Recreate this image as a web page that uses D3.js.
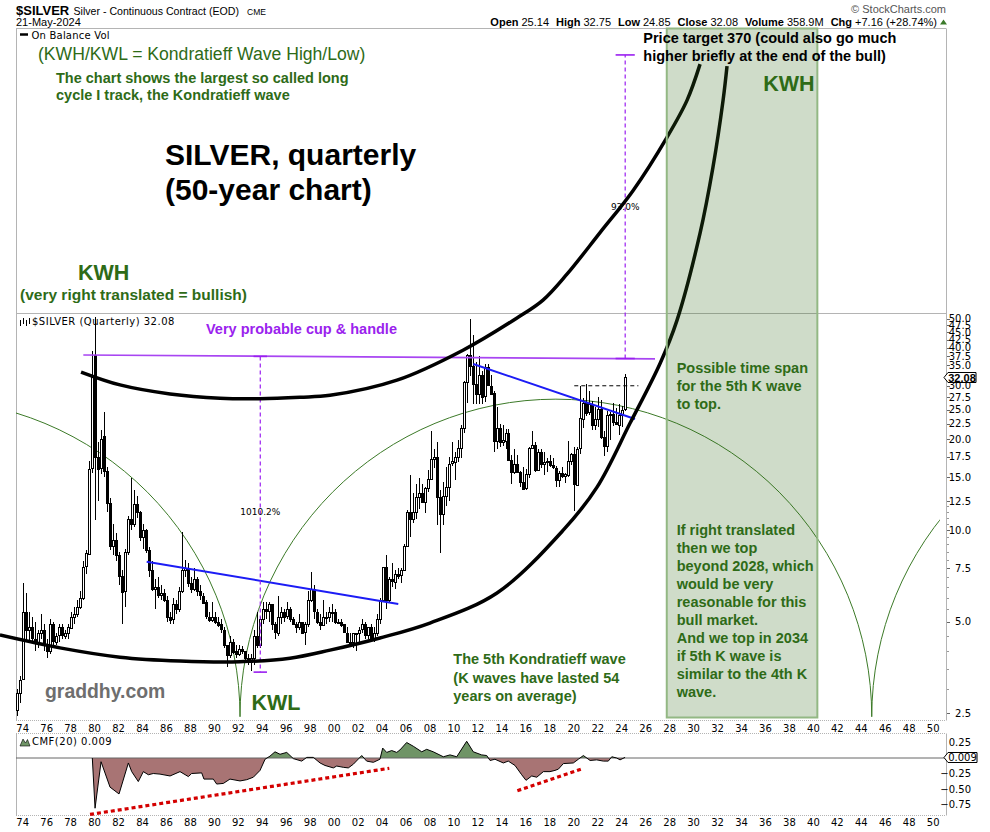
<!DOCTYPE html>
<html lang="en">
<head>
<meta charset="UTF-8">
<title>Silver quarterly - Kondratieff wave</title>
<script src="https://d3js.org/d3.v7.min.js"></script>
<style>
  body { margin: 0; background: #fff; }
  svg { display: block; }
  text { font-family: "Liberation Sans", Arial, sans-serif; }
  .small { font-family: "DejaVu Sans", Verdana, sans-serif; font-size: 10px; fill: #000; }
  .note { font-weight: bold; font-size: 14.5px; fill: #2e6b17; }
</style>
</head>
<body>
<div id="chart"></div>
<script>

// quarterly candles, first one is 1973 Q3
const firstQuarter = 1973.5;

const silverOpen = [
  2.55, 2.90,
  3.25, 5.40, 4.70, 4.80,   4.40, 4.30, 4.60, 4.70,   4.20, 4.00, 4.90, 4.30,
  4.50, 4.80, 4.50, 4.60,   4.80, 5.20, 5.30, 5.60,   6.00, 7.60, 8.40, 16.0,
  38.0, 17.5, 16.0, 20.5,   15.7, 12.3, 8.90, 9.30,   8.30, 7.10, 6.30, 8.50,
  10.9, 10.5, 12.2, 11.5,   9.50, 10.0, 8.60, 7.40,   6.40, 6.50, 6.10, 6.20,
  5.90, 5.20, 5.10, 5.70,   5.50, 6.30, 7.40, 7.50,   6.70, 6.40, 6.90, 6.30,
  6.10, 5.80, 5.20, 5.10,   5.20, 5.00, 4.90, 4.70,   4.20, 3.90, 4.30, 4.00,
  3.90, 4.05, 4.00, 3.80,   3.70, 3.80, 4.50, 4.20,   5.10, 5.50, 5.40, 5.70,
  4.90, 4.60, 5.20, 5.40,   5.20, 5.50, 5.10, 4.90,   4.80, 5.00, 4.60, 4.90,
  5.90, 6.40, 5.40, 5.00,   4.90, 5.20, 5.20, 5.40,   5.40, 5.00, 5.00, 4.90,
  4.60, 4.30, 4.30, 4.60,   4.60, 4.70, 4.90, 4.50,   4.80, 4.40, 4.60, 5.10,
  5.90, 7.60, 5.90, 6.90,   6.80, 7.20, 7.10, 7.40,   8.90, 11.5, 10.9, 11.5,
  12.9, 13.3, 12.4, 13.8,   14.8, 17.2, 17.5, 12.9,   11.3, 13.0, 13.9, 16.6,
  16.9, 17.5, 18.7, 21.8,   30.9, 37.9, 34.8, 30.4,   28.2, 32.5, 27.6, 34.5,
  30.0, 28.3, 19.7, 21.7,   19.5, 19.8, 21.0, 17.1,   15.6, 16.6, 15.6, 14.5,
  13.8, 15.4, 18.7, 19.2,   15.9, 18.2, 16.6, 16.8,   16.9, 16.4, 16.1, 14.7,
  15.5, 15.1, 15.3, 17.0,   17.9, 14.2, 18.6, 23.4,   26.4, 24.5, 26.1, 22.2,
  23.3, 25.1, 20.3, 19.0,   24.0, 24.2, 22.8, 22.4,   24.1, 25.14
];
const silverHigh = [
  3.00, 3.30,
  6.70, 6.20, 5.40, 5.20,   5.00, 4.70, 5.30, 4.90,   4.40, 5.10, 5.00, 4.60,
  4.90, 4.90, 4.70, 4.90,   5.40, 5.60, 5.90, 6.30,   7.90, 8.60, 17.0, 39.0,
  50.4, 19.5, 21.5, 24.5,   16.2, 12.8, 10.5, 9.80,   8.50, 7.40, 8.70, 11.2,
  14.9, 13.6, 13.0, 11.6,   10.5, 10.1, 8.80, 7.90,   6.90, 7.00, 6.60, 6.40,
  6.10, 5.40, 6.00, 5.90,   6.50, 9.90, 8.00, 7.80,   7.00, 7.50, 7.00, 6.60,
  6.20, 5.90, 5.40, 5.80,   5.40, 5.20, 5.10, 4.80,   4.20, 4.50, 4.40, 4.20,
  4.20, 4.15, 4.00, 3.90,   3.90, 4.70, 5.40, 5.20,   5.80, 5.80, 5.80, 5.70,
  5.00, 6.10, 5.60, 5.50,   5.80, 5.60, 5.20, 5.00,   5.30, 5.00, 5.00, 6.30,
  7.30, 6.60, 5.50, 5.30,   5.90, 5.40, 5.60, 5.70,   5.50, 5.10, 5.10, 4.90,
  4.80, 4.60, 4.60, 4.60,   4.80, 5.10, 5.00, 4.80,   4.90, 4.80, 5.30, 6.00,
  7.60, 8.30, 7.00, 7.80,   7.40, 7.50, 7.50, 9.00,   11.7, 15.2, 13.3, 14.2,
  14.9, 14.2, 13.9, 15.8,   21.3, 18.6, 19.5, 13.6,   14.5, 16.2, 17.5, 19.5,
  18.2, 19.8, 22.2, 31.0,   38.2, 49.8, 44.2, 36.0,   37.5, 33.5, 35.4, 35.4,
  32.5, 28.9, 25.5, 22.5,   22.2, 21.6, 21.6, 17.8,   18.5, 17.8, 15.7, 16.2,
  16.0, 18.8, 21.2, 19.6,   18.6, 18.6, 18.2, 17.4,   17.7, 17.4, 16.3, 15.7,
  16.2, 15.5, 19.7, 18.0,   18.9, 18.9, 29.9, 27.4,   30.4, 28.8, 26.7, 25.5,
  27.5, 26.9, 21.2, 24.7,   24.6, 26.4, 25.3, 26.1,   25.8, 32.75
];
const silverLow = [
  2.45, 2.70,
  3.20, 4.30, 4.30, 4.30,   4.00, 4.10, 4.40, 4.00,   3.80, 3.90, 4.20, 4.20,
  4.30, 4.40, 4.40, 4.40,   4.80, 4.90, 5.20, 5.50,   5.90, 7.20, 8.30, 15.5,
  10.8, 12.5, 15.3, 15.0,   11.5, 8.60, 8.30, 7.90,   6.60, 4.90, 5.60, 8.30,
  10.0, 10.3, 11.0, 9.20,   8.70, 8.40, 7.00, 6.30,   5.50, 6.00, 5.90, 5.80,
  5.00, 4.90, 4.90, 5.30,   5.40, 6.20, 7.00, 6.50,   6.20, 6.30, 6.10, 5.90,
  5.70, 5.10, 5.00, 5.00,   4.90, 4.80, 4.60, 4.10,   3.55, 3.80, 3.90, 3.80,
  3.85, 3.90, 3.70, 3.60,   3.45, 3.60, 4.10, 4.10,   4.90, 5.10, 5.00, 4.70,
  4.40, 4.50, 4.90, 5.00,   5.10, 5.00, 4.90, 4.60,   4.70, 4.60, 4.20, 4.80,
  5.80, 5.10, 4.90, 4.70,   4.90, 4.90, 5.00, 5.00,   4.90, 4.90, 4.80, 4.60,
  4.30, 4.20, 4.10, 4.00,   4.30, 4.60, 4.40, 4.40,   4.30, 4.30, 4.50, 4.90,
  5.80, 5.50, 5.80, 6.50,   6.40, 6.90, 6.70, 7.40,   8.80, 9.50, 10.6, 10.9,
  11.8, 12.4, 11.4, 13.4,   14.7, 16.1, 10.4, 8.40,   10.4, 12.0, 12.5, 16.3,
  14.7, 16.8, 17.3, 21.0,   26.4, 32.3, 26.1, 26.2,   26.2, 26.1, 26.5, 29.9,
  27.9, 18.2, 18.6, 18.8,   19.0, 18.6, 17.0, 14.2,   15.3, 15.5, 13.9, 13.6,
  13.6, 14.9, 18.5, 15.6,   15.8, 16.1, 15.2, 15.6,   16.2, 16.0, 13.9, 13.9,
  14.9, 14.3, 15.0, 16.4,   11.6, 14.0, 17.9, 21.7,   23.8, 24.1, 21.4, 21.4,
  21.9, 20.1, 17.6, 18.1,   19.9, 22.1, 22.2, 20.7,   21.9, 24.85
];
const silverClose = [
  2.90, 3.20,
  5.40, 4.70, 4.80, 4.40,   4.30, 4.60, 4.70, 4.20,   4.00, 4.90, 4.30, 4.50,
  4.80, 4.50, 4.60, 4.80,   5.20, 5.30, 5.60, 6.00,   7.60, 8.40, 16.0, 32.0,
  17.5, 16.0, 20.0, 15.7,   12.3, 8.90, 9.30, 8.30,   7.10, 6.30, 8.50, 10.9,
  10.5, 12.2, 11.5, 9.50,   10.0, 8.60, 7.40, 6.40,   6.50, 6.10, 6.20, 5.90,
  5.20, 5.10, 5.70, 5.50,   6.30, 7.40, 7.50, 6.70,   6.40, 6.90, 6.30, 6.10,
  5.80, 5.20, 5.10, 5.20,   5.00, 4.90, 4.70, 4.20,   3.90, 4.30, 4.00, 3.90,
  4.05, 4.00, 3.80, 3.70,   3.80, 4.50, 4.20, 5.10,   5.50, 5.40, 5.70, 4.90,
  4.60, 5.20, 5.40, 5.20,   5.50, 5.10, 4.90, 4.80,   5.00, 4.60, 4.90, 5.90,
  6.40, 5.40, 5.00, 4.90,   5.20, 5.20, 5.40, 5.40,   5.00, 5.00, 4.90, 4.60,
  4.30, 4.30, 4.60, 4.60,   4.70, 4.90, 4.50, 4.80,   4.40, 4.60, 5.10, 5.90,
  7.60, 5.90, 6.90, 6.80,   7.20, 7.10, 7.40, 8.90,   11.5, 10.9, 11.5, 12.9,
  13.3, 12.4, 13.8, 14.8,   17.2, 17.5, 12.9, 11.3,   13.0, 13.9, 16.6, 16.9,
  17.5, 18.7, 21.8, 30.9,   37.9, 34.8, 30.4, 28.2,   32.5, 27.6, 34.5, 30.0,
  28.3, 19.7, 21.7, 19.5,   19.8, 21.0, 17.1, 15.6,   16.6, 15.6, 14.5, 13.8,
  15.4, 18.7, 19.2, 15.9,   18.2, 16.6, 16.8, 16.9,   16.4, 16.1, 14.7, 15.5,
  15.1, 15.3, 17.0, 17.9,   14.2, 18.6, 23.4, 26.4,   24.5, 26.1, 22.2, 23.3,
  25.1, 20.3, 19.0, 24.0,   24.2, 22.8, 22.4, 24.1,   25.0, 32.08
];

// Chaikin Money Flow (20)
const cmfYears = [1979.81, 1980.04, 1980.54, 1981.29, 1982.04, 1982.82, 1983.10, 1983.65, 1984.07, 1984.49,
  1984.90, 1985.46, 1986.30, 1987.13, 1987.83, 1988.10, 1988.94, 1989.13, 1989.91, 1990.19,
  1990.75, 1991.30, 1992.14, 1992.70, 1993.25, 1993.81, 1994.23, 1994.64, 1995.06, 1995.48,
  1996.04, 1996.59, 1997.29, 1997.71, 1998.26, 1998.82, 1999.23, 1999.93, 2000.21, 2000.76,
  2001.18, 2001.60, 2002.30, 2002.71, 2003.27, 2003.82, 2004.05, 2004.38, 2004.80, 2005.22,
  2005.49, 2006.05, 2006.60, 2007.31, 2007.72, 2008.27, 2009.11, 2009.67, 2010.23, 2011.06,
  2011.61, 2012.31, 2012.73, 2013.01, 2013.42, 2014.12, 2014.53, 2015.09, 2015.65, 2016.01,
  2016.49, 2016.91, 2017.46, 2018.01, 2018.43, 2018.71, 2019.13, 2019.96, 2020.38, 2020.80,
  2021.36, 2021.91, 2022.47, 2022.88, 2023.17, 2023.58, 2023.86, 2024.28];
const cmfValues = [0.00, -0.81, -0.06, -0.47, -0.58, -0.08, -0.22, -0.38, -0.22, -0.27,
  -0.25, -0.26, -0.29, -0.22, -0.30, -0.25, -0.24, -0.34, -0.34, -0.42,
  -0.41, -0.34, -0.37, -0.35, -0.31, -0.20, -0.02, 0.03, 0.10, 0.06,
  0.09, -0.01, -0.05, 0.01, 0.01, -0.08, -0.12, -0.16, -0.13, -0.15,
  -0.16, -0.10, 0.04, -0.05, -0.07, -0.02, 0.16, 0.09, 0.12, 0.09,
  0.13, 0.25, 0.19, 0.10, 0.14, 0.10, 0.02, 0.05, 0.02, 0.27,
  0.10, 0.05, 0.04, -0.04, -0.02, -0.08, -0.05, -0.12, -0.27, -0.36,
  -0.29, -0.31, -0.22, -0.22, -0.20, -0.18, -0.09, -0.08, -0.02, 0.04,
  -0.04, -0.03, -0.05, -0.05, 0.02, 0.00, -0.03, 0.01];

// axis ticks (32.5 sits under the last-price tag)
const yearTicks = d3.range(1974, 2051, 2);
const priceTicks = d3.range(2.5, 50.01, 2.5);
const priceLabels = priceTicks.filter(d => d !== 32.5);
const cmfTicks = [0.25, -0.25, -0.5, -0.75];

// hand drawn annotations, in (year, price)
const kwCusps = [1939.41, 1992.14, 2044.87, 2097.6];
const kwBase = 2.43, kwPeak = 27.1;
const upperArc = [[1978.87, 33.3], [1982.12, 30.2], [1986.30, 28.2], [1990.47, 27.3], [1993.81, 27.2],
  [1997.15, 27.5], [1999.65, 27.9], [2005.24, 31.3], [2010.75, 39.3], [2015.26, 50.2], [2017.43, 57.5],
  [2019.43, 70], [2022.19, 96], [2024.94, 132], [2027.78, 198], [2029.45, 262], [2030.54, 345]];
const lowerArc = [[1972.1, 4.52], [1977.11, 4.10], [1982.12, 3.82], [1987.13, 3.71], [1992.14, 3.69],
  [1996.31, 3.79], [1999.65, 4.03], [2003.82, 4.42], [2007.99, 4.95], [2013.59, 6.22], [2019.10, 10.0],
  [2021.94, 13.9], [2024.70, 22.6], [2027.21, 35.6], [2028.62, 49.4], [2030.54, 95.6], [2031.62, 158],
  [2032.46, 262], [2032.79, 340]];
const cupRim = [[1979.06, 37.9], [2026.78, 36.8]];
const blueLines = [[[1984.35, 7.89], [2005.35, 5.72]], [[2011.61, 35.4], [2025.11, 23.3]]];
const handleTop = [[2020.04, 30], [2025.39, 30]];
const cupDepth = {t: 1993.83, from: 37.5, to: 3.41, label: "1010.2%", labelPrice: 11.5};
const target = {t: 2024.29, from: 36.9, to: 370, label: "93.0%", labelPrice: 117};
const kwhSpan = [2027.76, 2040.33];
const cmfTrends = [[[1979.62, -0.91], [2004.6, -0.166]], [[2015.29, -0.527], [2020.8, -0.166]]];

const green = "#2e6b17";
const left = 16, right = 946;
const topY = 28.5, sepY = 313.5, priceBottom = 720.5, cmfTop = 733.5, cmfBottom = 815.5;

const svg = d3.select("#chart").append("svg")
  .attr("width", 990)
  .attr("height", 832);

const defs = svg.append("defs");

const x = d3.scaleLinear().domain([1974, 2050]).range([22.7, 933.2]);
const y = d3.scaleLog().domain([2.5, 50]).range([713, 318.5]);
const yc = d3.scaleLinear().domain([-0.75, 0.25]).range([804.5, 742.5]);

// frames
const frame = svg.append("g").attr("stroke", "#b4b4b4").attr("fill", "none");
frame.append("line").attr("x1", left).attr("x2", right).attr("y1", topY).attr("y2", topY);
frame.append("line").attr("x1", left).attr("x2", right).attr("y1", sepY).attr("y2", sepY);
[left + 0.5, right + 0.5].forEach(px => {
  frame.append("line").attr("x1", px).attr("x2", px).attr("y1", topY).attr("y2", priceBottom);
  frame.append("line").attr("x1", px).attr("x2", px).attr("y1", cmfTop).attr("y2", cmfBottom);
});
[priceBottom, cmfTop, cmfBottom].forEach(py => {
  frame.append("line").attr("x1", left).attr("x2", right).attr("y1", py).attr("y2", py)
    .attr("stroke-dasharray", "1,1");
});

// year labels
[732, 826].forEach(py => {
  svg.append("g").selectAll("text").data(yearTicks).join("text")
    .attr("class", "small")
    .attr("x", d => x(d))
    .attr("y", py)
    .attr("text-anchor", "middle")
    .text(d => String(d % 100).padStart(2, "0"));
});

// price axis
svg.append("g").selectAll("line").data(d3.range(2.5, 12.51, 0.5)).join("line")
  .attr("x1", right + 1).attr("x2", right + 3)
  .attr("y1", d => Math.round(y(d)) + 0.5).attr("y2", d => Math.round(y(d)) + 0.5)
  .attr("stroke", "#999");
svg.append("g").selectAll("line").data(priceTicks).join("line")
  .attr("x1", right + 1).attr("x2", right + 4)
  .attr("y1", d => Math.round(y(d)) + 0.5).attr("y2", d => Math.round(y(d)) + 0.5)
  .attr("stroke", "#666");
svg.append("g").selectAll("text").data(priceLabels).join("text")
  .attr("class", "small")
  .attr("x", 971)
  .attr("y", d => y(d) + 3.5)
  .attr("text-anchor", "end")
  .text(d => d3.format(".1f")(d));

// Kondratieff cycle arcs
defs.append("clipPath").attr("id", "kwClip").append("rect")
  .attr("x", left).attr("y", sepY)
  .attr("width", x(2050.55) - left).attr("height", priceBottom - sepY);
svg.append("g").attr("clip-path", "url(#kwClip)")
  .selectAll("path").data(d3.pairs(kwCusps)).join("path")
  .attr("d", ([a, b]) => {
    const x0 = x(a), x1 = x(b), yb = y(kwBase);
    return `M${x0},${yb}A${(x1 - x0) / 2},${yb - y(kwPeak)} 0 0 1 ${x1},${yb}`;
  })
  .attr("fill", "none")
  .attr("stroke", "#3c7a28")
  .attr("stroke-width", 1);

// candles
const quarters = silverClose.map((c, i) => ({
  t: firstQuarter + i * 0.25, o: silverOpen[i], h: silverHigh[i], l: silverLow[i], c
}));
const cx = d => Math.round(x(d.t + 0.05));
const candles = svg.append("g");
candles.selectAll("line").data(quarters).join("line")
  .attr("x1", d => cx(d) + 0.5).attr("x2", d => cx(d) + 0.5)
  .attr("y1", d => Math.round(y(d.h))).attr("y2", d => Math.round(y(d.l)))
  .attr("stroke", "#000");
candles.selectAll("rect").data(quarters).join("rect")
  .attr("x", d => cx(d) - 0.5)
  .attr("y", d => Math.round(y(Math.max(d.o, d.c))) + 0.5)
  .attr("width", 2)
  .attr("height", d => Math.max(1, Math.round(Math.abs(y(d.o) - y(d.c)))))
  .attr("fill", d => d.c >= d.o ? "#fff" : "#000")
  .attr("stroke", "#000")
  .attr("stroke-width", 1);

// price tag
const tagY = Math.round(y(silverClose[silverClose.length - 1])) + 0.5;
svg.append("path")
  .attr("d", `M944,${tagY}L948,${tagY - 5}H976V${tagY + 5}H948Z`)
  .attr("fill", "#fff").attr("stroke", "#000");
svg.append("text").attr("x", 962).attr("y", tagY + 4)
  .attr("text-anchor", "middle")
  .style("font-size", "11px").style("font-weight", "bold")
  .text("32.08");

const seg = d3.line().x(d => x(d[0])).y(d => y(d[1]));

// cup rim, trend lines, handle
svg.append("path").attr("d", seg(cupRim))
  .attr("stroke", "#a845f2").attr("stroke-width", 1.6).attr("fill", "none");
svg.append("g").selectAll("path").data(blueLines).join("path")
  .attr("d", seg).attr("stroke", "#1c1cf5").attr("stroke-width", 2).attr("fill", "none");
svg.append("path").attr("d", seg(handleTop))
  .attr("stroke", "#000").attr("stroke-dasharray", "4,3").attr("fill", "none");

// measurement lines
[cupDepth, target].forEach((m, i) => {
  const g = svg.append("g").attr("stroke", "#9a1ff0").attr("fill", "none");
  g.append("line").attr("x1", x(m.t)).attr("x2", x(m.t))
    .attr("y1", y(m.from)).attr("y2", y(m.to))
    .attr("stroke-dasharray", "4,3").attr("stroke-width", 1.2);
  const half = i === 0 ? 0.56 : 0.8;
  [m.from, m.to].forEach(p => {
    g.append("line").attr("x1", x(m.t - half)).attr("x2", x(m.t + half))
      .attr("y1", y(p)).attr("y2", y(p)).attr("stroke-width", 1.6);
  });
  svg.append("text").attr("class", "small")
    .attr("x", x(m.t)).attr("y", y(m.labelPrice) + 3)
    .attr("text-anchor", "middle").style("font-size", "9px")
    .text(m.label);
});

// black long cycle arcs
const smooth = d3.line().x(d => x(d[0])).y(d => y(d[1])).curve(d3.curveCatmullRom.alpha(0.5));
svg.append("g").selectAll("path").data([upperArc, lowerArc]).join("path")
  .attr("d", smooth)
  .attr("fill", "none")
  .attr("stroke", "#000")
  .attr("stroke-width", 3.5);

// KWH time span
svg.append("rect")
  .attr("x", x(kwhSpan[0])).attr("y", topY)
  .attr("width", x(kwhSpan[1]) - x(kwhSpan[0]))
  .attr("height", 717.5 - topY)
  .attr("fill", "rgb(55,110,30)").attr("fill-opacity", 0.24)
  .attr("stroke", "#93b884").attr("stroke-width", 2);

// CMF panel
defs.append("clipPath").attr("id", "cmfPos").append("rect")
  .attr("x", left).attr("y", cmfTop).attr("width", right - left).attr("height", yc(0) - cmfTop);
defs.append("clipPath").attr("id", "cmfNeg").append("rect")
  .attr("x", left).attr("y", yc(0)).attr("width", right - left).attr("height", cmfBottom - yc(0));
const cmf = cmfYears.map((t, i) => ({t, v: cmfValues[i]}));
const cmfArea = d3.area().x(d => x(d.t)).y0(yc(0)).y1(d => yc(d.v));
svg.append("path").datum(cmf).attr("d", cmfArea)
  .attr("fill", "#6f9466").attr("clip-path", "url(#cmfPos)");
svg.append("path").datum(cmf).attr("d", cmfArea)
  .attr("fill", "#a87474").attr("clip-path", "url(#cmfNeg)");
svg.append("line").attr("x1", left).attr("x2", right)
  .attr("y1", yc(0)).attr("y2", yc(0)).attr("stroke", "#666");
svg.append("path").datum(cmf)
  .attr("d", d3.line().x(d => x(d.t)).y(d => yc(d.v)))
  .attr("fill", "none").attr("stroke", "#000").attr("stroke-width", 1);

svg.append("g").selectAll("path").data(cmfTrends).join("path")
  .attr("d", d3.line().x(d => x(d[0])).y(d => yc(d[1])))
  .attr("stroke", "#d40000").attr("stroke-width", 3.2)
  .attr("stroke-dasharray", "4,3").attr("fill", "none");

svg.append("g").selectAll("text").data(cmfTicks).join("text")
  .attr("class", "small")
  .attr("x", 971)
  .attr("y", d => yc(d) + 3.5)
  .attr("text-anchor", "end")
  .text(d => d3.format(".2f")(d));
const cmfTagY = Math.round(yc(cmfValues[cmfValues.length - 1])) + 0.5;
svg.append("path")
  .attr("d", `M944,${cmfTagY}L948,${cmfTagY - 5}H977V${cmfTagY + 5}H948Z`)
  .attr("fill", "#fff").attr("stroke", "#000");
svg.append("text").attr("class", "small").attr("x", 962.5).attr("y", cmfTagY + 3.5)
  .attr("text-anchor", "middle").text("0.009");

// header
svg.append("text").attr("x", 16).attr("y", 14.5)
  .style("font-size", "13px").style("font-weight", "bold").text("$SILVER");
svg.append("text").attr("x", 73.5).attr("y", 14.5)
  .style("font-size", "10.6px").text("Silver - Continuous Contract (EOD)");
svg.append("text").attr("x", 247).attr("y", 14.5)
  .style("font-size", "8.5px").text("CME");
svg.append("text").attr("x", 16).attr("y", 26)
  .style("font-size", "11px").text("21-May-2024");
svg.append("text").attr("x", 946).attr("y", 12.5).attr("text-anchor", "end")
  .style("font-size", "11px").style("fill", "#555").text("\u00A9 StockCharts.com");

const quote = [["Open", "25.14"], ["High", "32.75"], ["Low", "24.85"], ["Close", "32.08"],
  ["Volume", "358.9M"], ["Chg", "+7.16 (+28.74%)"]];
const qt = svg.append("text").attr("x", 937).attr("y", 26)
  .attr("text-anchor", "end").style("font-size", "11px");
quote.forEach(([k, v], i) => {
  qt.append("tspan").attr("dx", i ? 7 : 0).style("font-weight", "bold").text(k);
  qt.append("tspan").attr("dx", 3).text(v);
});
svg.append("path").attr("d", "M940,24.5L943.5,19.5L947,24.5Z").attr("fill", "#3b7a2a");

// panel legends
svg.append("line").attr("x1", 20).attr("x2", 28).attr("y1", 34.5).attr("y2", 34.5)
  .attr("stroke", "#000").attr("stroke-width", 2.5);
svg.append("text").attr("class", "small").attr("x", 31.5).attr("y", 38.5)
  .style("letter-spacing", "0.2px").text("On Balance Vol");

const icon = svg.append("g").attr("stroke", "#000");
[20.5, 23.5, 26.5, 29.5].forEach((px, i) => {
  icon.append("line").attr("x1", px).attr("x2", px)
    .attr("y1", i % 2 ? 318 : 320).attr("y2", i % 2 ? 324 : 326);
});
svg.append("text").attr("class", "small").attr("x", 32).attr("y", 324.5)
  .style("letter-spacing", "0.5px").text("$SILVER (Quarterly) 32.08");

svg.append("path").attr("d", "M20,746L23,739L25.5,743L27.5,739.5L30,746Z")
  .attr("fill", "#6f9466").attr("stroke", "#000").attr("stroke-width", 0.6);
svg.append("text").attr("class", "small").attr("x", 32).attr("y", 745)
  .style("letter-spacing", "0.5px").text("CMF(20) 0.009");

// notes
const lines = (x0, y0, step, arr, cls) => arr.forEach((t, i) =>
  svg.append("text").attr("class", cls).attr("x", x0).attr("y", y0 + i * step).text(t));

svg.append("text").attr("x", 38).attr("y", 60)
  .style("font-size", "17.6px").style("fill", green)
  .text("(KWH/KWL = Kondratieff Wave High/Low)");
lines(56, 82.7, 16.8, ["The chart shows the largest so called long",
  "cycle I track, the Kondratieff wave"], "note");

svg.append("text").attr("x", 165).attr("y", 165)
  .style("font-size", "30px").style("font-weight", "bold").text("SILVER, quarterly");
svg.append("text").attr("x", 165).attr("y", 200)
  .style("font-size", "30px").style("font-weight", "bold").text("(50-year chart)");

svg.append("text").attr("x", 78).attr("y", 280)
  .style("font-size", "21.5px").style("font-weight", "bold").style("fill", green).text("KWH");
svg.append("text").attr("x", 20).attr("y", 300)
  .style("font-size", "15.5px").style("font-weight", "bold").style("fill", green)
  .text("(very right translated = bullish)");

svg.append("text").attr("x", 206).attr("y", 334)
  .style("font-size", "14.5px").style("font-weight", "bold").style("fill", "#9a22ee")
  .text("Very probable cup & handle");

svg.append("g").selectAll("text")
  .data(["Price target 370 (could also go much", "higher briefly at the end of the bull)"])
  .join("text")
  .attr("x", 643.3).attr("y", (d, i) => 42.7 + i * 18.3)
  .style("font-size", "14.5px").style("font-weight", "bold")
  .text(d => d);

svg.append("text").attr("x", 763.3).attr("y", 90.7)
  .style("font-size", "21.5px").style("font-weight", "bold").style("fill", green).text("KWH");

lines(676.7, 373.3, 18, ["Possible time span", "for the 5th K wave", "to top."], "note");
lines(676.7, 535, 17.97, ["If right translated", "then we top", "beyond 2028, which",
  "would be very", "reasonable for this", "bull market.", "And we top in 2034",
  "if 5th K wave is", "similar to the 4th K", "wave."], "note");
lines(453.3, 664.3, 18.35, ["The 5th Kondratieff wave", "(K waves have lasted 54",
  "years on average)"], "note");

svg.append("text").attr("x", 45).attr("y", 698.3)
  .style("font-size", "19.4px").style("font-weight", "bold").style("fill", "#6e6e6e")
  .text("graddhy.com");
svg.append("text").attr("x", 251.5).attr("y", 710)
  .style("font-size", "21.5px").style("font-weight", "bold").style("fill", green).text("KWL");

</script>
</body>
</html>
